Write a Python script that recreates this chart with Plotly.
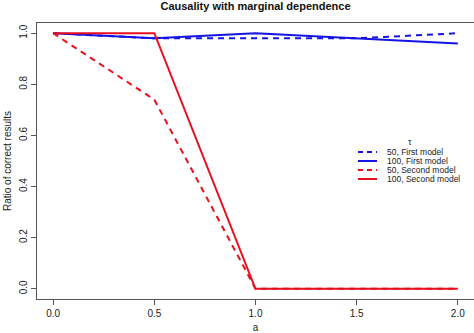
import plotly.graph_objects as go

# Values of a on the x axis
a_values = [0.0, 0.5, 1.0, 1.5, 2.0]

# Ratio of correct results for each tau / model combination
first_50 = [1.00, 0.98, 0.98, 0.98, 1.00]
first_100 = [1.00, 0.98, 1.00, 0.98, 0.96]
second_50 = [1.00, 0.74, 0.00, 0.00, 0.00]
second_100 = [1.00, 1.00, 0.00, 0.00, 0.00]

series_names = ["50, First model", "100, First model", "50, Second model", "100, Second model"]
series_values = [first_50, first_100, second_50, second_100]
series_colors = ["#1414e6", "#1414e6", "#e8101e", "#e8101e"]
series_dash = ["6px,5px", "solid", "6px,5px", "solid"]

x_ticks = [0.0, 0.5, 1.0, 1.5, 2.0]
y_ticks = [0.0, 0.2, 0.4, 0.6, 0.8, 1.0]

W, H = 474, 333
ML, MR, MT, MB = 37, 0, 23, 34

fig = go.Figure()
for name, vals, col, dash in zip(series_names, series_values, series_colors, series_dash):
    fig.add_trace(go.Scatter(x=a_values, y=vals, mode="lines", name=name,
                             line=dict(color=col, width=2, dash=dash),
                             showlegend=False))

axis_color = "#555555"
font_family = "Liberation Sans, Arial, sans-serif"

fig.update_layout(
    width=W, height=H,
    margin=dict(l=ML, r=MR, t=MT, b=MB),
    paper_bgcolor="white", plot_bgcolor="white",
    font=dict(family=font_family, size=10, color="#222222"),
    title=dict(text="<b>Causality with marginal dependence</b>",
               x=0.5, xref="paper", xanchor="center",
               y=1 - 6 / H, yanchor="middle", font=dict(size=11, color="#111111")),
    xaxis=dict(range=[-0.08, 2.08], tickvals=x_ticks, ticktext=[f"{v:.1f}" for v in x_ticks],
               showgrid=False, zeroline=False, showline=True, linecolor=axis_color,
               linewidth=1, mirror=True, ticks="outside", ticklen=5, tickcolor=axis_color,
               tickfont=dict(size=10, color="#222222"),
               title=dict(text="a", font=dict(size=10), standoff=6)),
    yaxis=dict(range=[-0.04, 1.04], tickvals=y_ticks, ticktext=[f"{v:.1f}" for v in y_ticks],
               showgrid=False, zeroline=False, showline=True, linecolor=axis_color,
               linewidth=1, ticks="outside", ticklen=5, tickcolor=axis_color,
               tickangle=-90, tickfont=dict(size=10, color="#222222"),
               title=dict(text="Ratio of correct results", font=dict(size=10), standoff=4)),
)

# Legend drawn by hand in paper coordinates (compact, R-style)
pw = W - ML - MR
ph = H - MT - MB


def px_to_paper(xp, yp):
    return (xp - ML) / pw, (H - MB - yp) / ph


tx, ty = px_to_paper(410, 142)
fig.add_annotation(x=tx, y=ty, xref="paper", yref="paper", text="τ", showarrow=False,
                   font=dict(size=9, color="#222222"), xanchor="center", yanchor="middle")
row_y = [152, 161, 170, 179]
for name, col, dash, yp in zip(series_names, series_colors, series_dash, row_y):
    x0, y0 = px_to_paper(358, yp)
    x1, _ = px_to_paper(377, yp)
    fig.add_shape(type="line", xref="paper", yref="paper", x0=x0, x1=x1, y0=y0, y1=y0,
                  line=dict(color=col, width=2, dash="5px,4px" if dash != "solid" else "solid"))
    lx, ly = px_to_paper(385, yp)
    fig.add_annotation(x=lx, y=ly, xref="paper", yref="paper", text=name, showarrow=False,
                       font=dict(size=8.5, color="#222222"), xanchor="left", yanchor="middle")

fig.write_html("out.html")
